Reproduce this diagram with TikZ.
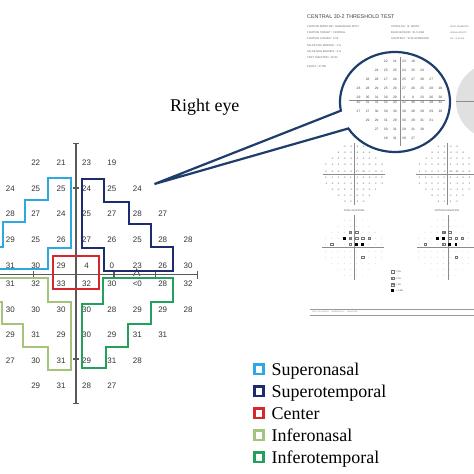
\documentclass[tikz,border=0pt]{standalone}
\usepackage{fontspec}
\setmainfont{Liberation Serif}
\newfontfamily\arialfont{Liberation Sans}
\usetikzlibrary{calc}

\definecolor{snasal}{HTML}{2EA9DF}
\definecolor{stemp}{HTML}{1E2C6E}
\definecolor{centre}{HTML}{D7262C}
\definecolor{inasal}{HTML}{A3C47A}
\definecolor{itemp}{HTML}{23A05B}
\definecolor{callout}{HTML}{1F3D6B}

% row / first column / thresholds (30-2 layout)
\newcommand{\fieldrows}{0/1/{22,21,23,19},1/0/{24,25,25,24,25,24},2/-1/{26,28,27,24,25,27,28,27},3/-2/{28,28,29,25,26,27,26,25,28,28},4/-2/{29,30,31,30,29,4,0,23,26,30},5/-2/{30,31,31,32,33,32,30,<0,28,32},6/-2/{27,27,30,30,30,30,28,29,29,28},7/-1/{29,29,31,29,30,29,31,31},8/0/{27,30,31,29,31,28},9/1/{29,31,28,27}}
\newcommand{\tdrows}{0/1/{-2,-3,-3,-6},1/0/{-4,-3,-2,-4,-3,-4},2/-1/{-2,0,-1,-4,-3,-1,0,-1},3/-2/{1,-1,-1,-3,-3,-1,-2,-4,-1,-1},4/-2/{0,-1,-1,-2,-4,-27,-31,-7,-3,0},5/-2/{1,1,0,0,1,-1,-2,-3,-3,0},6/-2/{-1,-2,-1,-1,-1,-1,-2,-1,0,-1},7/-1/{-1,-2,0,-1,-2,-2,0,1},8/0/{-3,-1,0,-2,0,-1},9/1/{-2,0,-1,-3}}
\newcommand{\pdrows}{0/1/{-1,-2,-2,-5},1/0/{-3,-2,-1,-3,-2,-3},2/-1/{-1,1,0,-3,-2,0,1,0},3/-2/{2,0,0,-2,-2,0,-1,-3,0,0},4/-2/{1,0,0,-1,-3,-26,-30,-6,-2,1},5/-2/{2,2,1,1,2,0,-1,-2,-2,1},6/-2/{0,-1,0,0,0,0,-1,0,1,0},7/-1/{0,-1,1,0,-1,-1,1,2},8/0/{-2,0,1,-1,1,0},9/1/{-1,1,0,-2}}

\newcommand{\lastcol}{9}
% #1 list, #2 name, #3 x of column 0, #4 column step, #5 axis y, #6 row step, #7 half gap, #8 style, #9 first column shown
\newcommand{\fieldgrid}[9]{%
  \foreach \r/\s/\vals in #1 {
    \foreach \v [count=\k from 0] in \vals {
      \pgfmathtruncatemacro\ii{\s+\k}
      \ifnum\ii<#9 \else \ifnum\ii>\lastcol \else
        \pgfmathsetmacro\xx{#3+#4*\ii}
        \pgfmathsetmacro\yy{\r<5 ? #5-(4-\r)*#6-#7 : #5+(\r-5)*#6+#7}
        \node[#8] (#2-\r-\ii) at (\xx,\yy) {\v};
      \fi\fi
    }}}

% probability symbol in cell (#2,#3) of plot with column 0 at #1
\newcommand{\probmark}[5]{%
  \pgfmathsetmacro\xx{#1+6.2*(#2)}
  \pgfmathsetmacro\yy{#3<5 ? 244.3-(4-#3)*6 : 251.3+(#3-5)*6}
  \node[#4] (#5-#2-#3) at (\xx,\yy) {};}

\begin{document}
\begin{tikzpicture}[x=1bp,y=-1bp,
  val/.style={font=\arialfont\fontsize{8}{8}\selectfont, text=black!80, inner sep=0pt},
  tinyval/.style={font=\arialfont\fontsize{3.3}{3.3}\selectfont, text=black!75, inner sep=0pt},
  devval/.style={font=\arialfont\fontsize{2.4}{2.4}\selectfont, text=black!70, inner sep=0pt},
  info/.style={anchor=base west, font=\arialfont\fontsize{2.7}{2.7}\selectfont, text=black!60, inner sep=0pt},
  region/.style={line width=2bp, line join=miter},
  axis/.style={black!65, line width=1.1bp},
  thinaxis/.style={black!45, line width=.5bp},
  legbox/.style={draw, fill=white, line width=2.6bp, minimum size=9.5bp, inner sep=0pt},
  legtext/.style={anchor=base west, font=\fontsize{18}{18}\selectfont, inner sep=0pt},
  pfive/.style={draw=black!55, line width=.3bp, fill=white, minimum size=2.4bp, inner sep=0pt},
  ptwo/.style={pfive, path picture={\draw[black!70, line width=.4bp] (path picture bounding box.south west) -- (path picture bounding box.north east);}},
  pone/.style={pfive, path picture={\fill[black!85] (path picture bounding box.north west) -| (path picture bounding box.south east) -- cycle;}},
  phalf/.style={fill=black, minimum size=2.8bp, inner sep=0pt}]

\useasboundingbox (0,0) rectangle (474,474);
\fill[white] (0,0) rectangle (474,474);

% ---- printout ----
\node[anchor=base west, font=\arialfont\fontsize{5.4}{5.4}\selectfont, text=black!75, inner sep=0pt] (title) at (307,18.6) {CENTRAL 30-2 THRESHOLD TEST};
\node[info] (i1) at (307,27.7) {FIXATION MONITOR : GAZE/BLIND SPOT};
\node[info] (i2) at (307,34) {FIXATION TARGET : CENTRAL};
\node[info] (i3) at (307,40) {FIXATION LOSSES : 1/16};
\node[info] (i4) at (307,46.3) {FALSE POS ERRORS : 1 \%};
\node[info] (i5) at (307,52.7) {FALSE NEG ERRORS : 3 \%};
\node[info] (i6) at (307,58.7) {TEST DURATION : 06:32};
\node[info] (i7) at (307,68) {FOVEA : 37 DB};
\node[info] (j1) at (391,27.7) {STIMULUS : III, WHITE};
\node[info] (j2) at (391,34) {BACKGROUND : 31.5 ASB};
\node[info] (j3) at (391,40) {STRATEGY : SITA-STANDARD};
\node[info, font=\arialfont\fontsize{2.2}{2.2}\selectfont] (k1) at (450,27.7) {PUPIL DIAMETER :};
\node[info, font=\arialfont\fontsize{2.2}{2.2}\selectfont] (k2) at (450,34) {VISUAL ACUITY :};
\node[info, font=\arialfont\fontsize{2.2}{2.2}\selectfont] (k3) at (450,40) {RX : +1.25 DS};

% grey scale
\fill[black!12] (494,101) circle (38);
\draw[thinaxis] (456,101) -- (474,101);

% numeric deviation plots
\draw[thinaxis] (323,174.3) -- (385,174.3) (354.5,143) -- (354.5,205);
\draw[thinaxis] (416,174.3) -- (474,174.3) (447.5,143) -- (447.5,205);
\fieldgrid{\tdrows}{td}{338.5}{6.2}{174.3}{6.2}{3}{devval}{-5}
\renewcommand{\lastcol}{6}
\fieldgrid{\pdrows}{pd}{432}{6.2}{174.3}{6.2}{3}{devval}{-5}
\renewcommand{\lastcol}{9}
\node[devval] (tdlabel) at (354,211) {TOTAL DEVIATION};
\node[devval] (pdlabel) at (447,211) {PATTERN DEVIATION};

% probability plots
\draw[thinaxis] (322,247.7) -- (384,247.7) (354,215) -- (354,280);
\draw[thinaxis] (416.7,247.7) -- (474,247.7) (448.3,215) -- (448.3,280);
\foreach \xo in {338,431.1} {
  \foreach \r/\s/\n in {0/1/4,1/0/6,2/-1/8,3/-2/10,4/-2/10,5/-2/10,6/-2/10,7/-1/8,8/0/6,9/1/4} {
    \foreach \k in {1,...,\n} {
      \pgfmathsetmacro\xx{\xo+6.2*(\s+\k-1)}
      \pgfmathsetmacro\yy{\r<5 ? 244.3-(4-\r)*6 : 251.3+(\r-5)*6}
      \fill[black!30] (\xx,\yy) circle (.35);
    }}}
\foreach \i/\r in {3/2,3/3,4/3,-1/4,2/4,4/6} {\probmark{338}{\i}{\r}{pfive}{tp}}
\foreach \i/\r in {2/2,5/3} {\probmark{338}{\i}{\r}{ptwo}{tp}}
\foreach \i/\r in {2/3} {\probmark{338}{\i}{\r}{pone}{tp}}
\foreach \i/\r in {1/3,3/4,4/4} {\probmark{338}{\i}{\r}{phalf}{tp}}
\foreach \i/\r in {3/2,3/3,4/3,-1/4,4/6} {\probmark{431.1}{\i}{\r}{pfive}{pp}}
\foreach \i/\r in {5/3,2/4} {\probmark{431.1}{\i}{\r}{ptwo}{pp}}
\foreach \i/\r in {2/2} {\probmark{431.1}{\i}{\r}{pone}{pp}}
\foreach \i/\r in {1/3,2/3,3/4,4/4} {\probmark{431.1}{\i}{\r}{phalf}{pp}}

% symbol key
\node[pfive] (s5) at (392.5,271.7) {};
\node[ptwo] (s2) at (392.5,278.3) {};
\node[pone] (s1) at (392.5,284.5) {};
\node[phalf] (s05) at (392.5,290.7) {};
\foreach \m/\t in {s5/{< 5\%},s2/{< 2\%},s1/{< 1\%},s05/{< 0.5\%}}
  \node[devval, anchor=west] at ([xshift=1.5bp]\m.east) {\t};

% footer
\draw[black!40, line width=.4bp] (310,309.3) -- (474,309.3) (310,315) -- (474,315);
\node[anchor=west, font=\arialfont\fontsize{1.8}{1.8}\selectfont, text=black!50, inner sep=0pt] (foot) at (312,312.2) {HFA II 750-12345/5.1 \quad REVIEWED BY : \quad SIGNATURE :};

% ---- callout ----
\coordinate (tip) at (154.5,184);
\coordinate (ctr) at (395,102);
\draw[callout, line width=2.2bp, fill=white] (tip) -- ($(ctr)+(148:55 and 50)$)
  arc[start angle=148, end angle=-190, x radius=55, y radius=50] -- cycle;
\draw[thinaxis] (349,100) -- (445,100) (400.3,57) -- (400.3,146);
\fieldgrid{\fieldrows}{c}{376.7}{9.1}{100}{9}{2.8}{tinyval}{-5}

% ---- enlarged field ----
\draw[axis] (0,274.5) -- (197.5,274.5);
\draw[axis] (76,143.5) -- (76,403.5);
\foreach \tx in {33.5,114,155.7,197.5} \draw[axis] (\tx,270.5) -- (\tx,278.5);
\foreach \ty in {143.5,188,359,403.5} \draw[axis] (73,\ty) -- (79,\ty);
\draw[black!65, line width=.8bp] (133.5,276) -- (136.7,269) -- (140,276);
\fieldgrid{\fieldrows}{m}{10.3}{25.4}{274.5}{25.6}{9.2}{val}{0}

\draw[region, snasal] (0,246.5) -- (3.3,246.5) -- (3.3,222) -- (25,222) -- (25,200) -- (47.7,200)
  -- (47.7,178.3) -- (71.3,178.3) -- (71.3,248) -- (47.7,248) -- (47.7,268.5) -- (0,268.5);
\draw[region, stemp] (81.5,179.3) -- (104.3,179.3) -- (104.3,202.3) -- (128.5,202.3) -- (128.5,224)
  -- (150.7,224) -- (150.7,246.7) -- (173.3,246.7) -- (173.3,270.5) -- (104.3,270.5)
  -- (104.3,247.5) -- (81.5,247.5) -- cycle;
\draw[region, centre] (53,256) rectangle (98.5,289.3);
\draw[region, inasal] (0,277.5) -- (48,277.5) -- (48,301.7) -- (71.3,301.7) -- (71.3,370)
  -- (48,370) -- (48,346.7) -- (22.7,346.7) -- (22.7,324) -- (1.7,324) -- (1.7,301.7) -- (0,301.7);
\draw[region, itemp] (103.3,278.3) -- (173.3,278.3) -- (173.3,301.7) -- (150.7,301.7) -- (150.7,324)
  -- (128.3,324) -- (128.3,346.7) -- (106,346.7) -- (106,368.3) -- (82,368.3) -- (82,304)
  -- (103.3,304) -- cycle;

\node[anchor=base west, font=\fontsize{18}{18}\selectfont, inner sep=0pt] (eye) at (170,111.7) {Right eye};

% ---- legend ----
\foreach \c/\t [count=\n from 0] in {snasal/Superonasal,stemp/Superotemporal,centre/Center,inasal/Inferonasal,itemp/Inferotemporal} {
  \node[legbox, draw=\c] (box\n) at (259,369.3+22*\n) {};
  \node[legtext] (lab\n) at (271.5,375.3+22*\n) {\t};
}
\end{tikzpicture}
\end{document}
